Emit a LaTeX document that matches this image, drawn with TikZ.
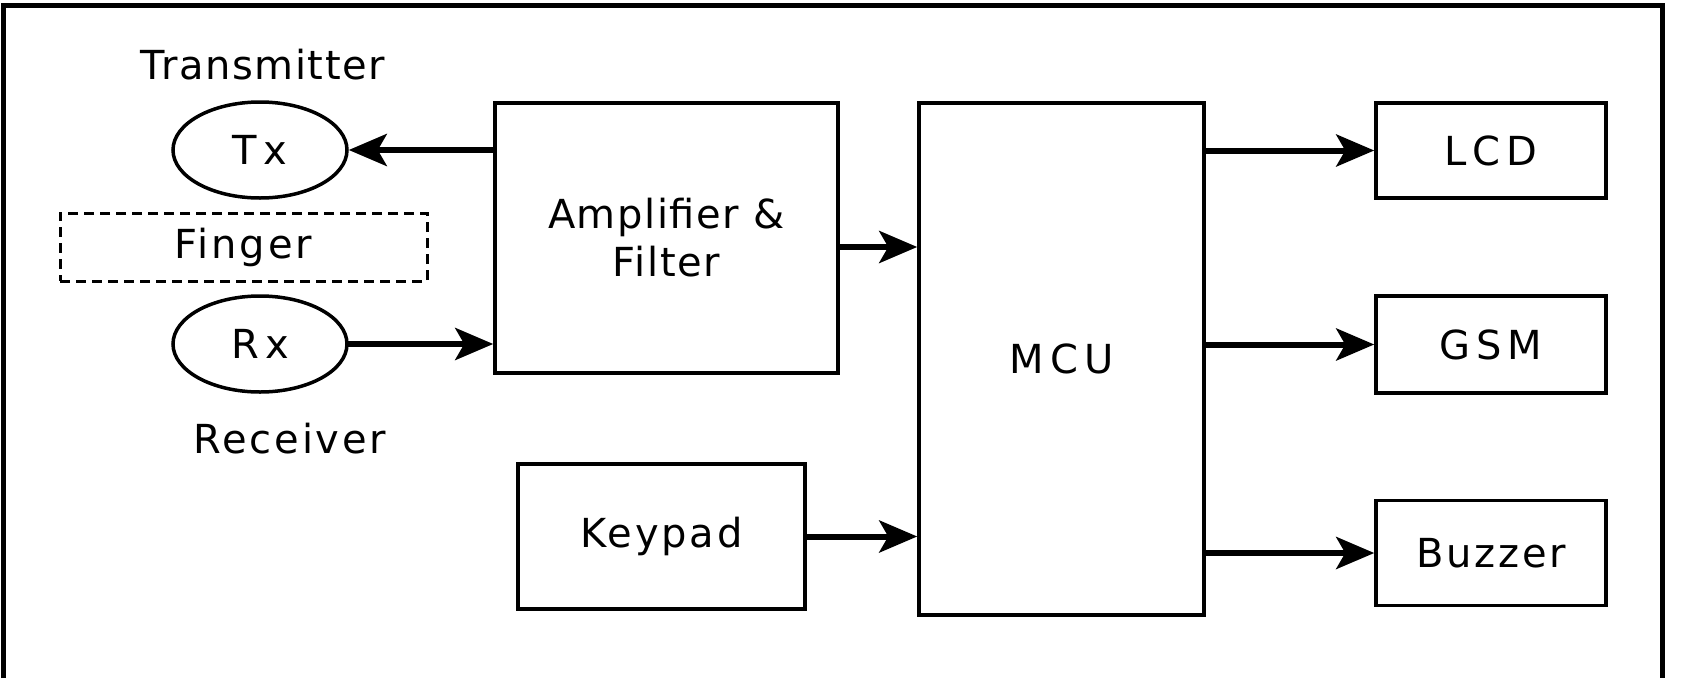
\documentclass[tikz,border=0pt]{standalone}
\usepackage{fontspec}
\setmainfont{DejaVu Sans}[LetterSpace=7]
\newfontfamily\narrowfont{DejaVu Sans}[LetterSpace=4]
\newfontfamily\widefont{DejaVu Sans}[LetterSpace=15]
\usetikzlibrary{arrows.meta,shapes.geometric}
\begin{document}
\begin{tikzpicture}[x=1pt,y=-1pt,
  txt/.style={font=\fontsize{40}{48}\selectfont, align=center, inner sep=0pt},
  box/.style={txt, draw, rectangle, line width=3.5pt},
  oval/.style={txt, draw, ellipse, line width=3.5pt, minimum width=174pt, minimum height=96pt},
  conn/.style={line width=6pt, line cap=round, -{Stealth[length=38pt,width=32pt,inset=9pt]}}]
\useasboundingbox (0,0) rectangle (1682,678);
\draw[line width=5pt] (3,678) -- (3,5) -- (1662,5) -- (1662,678);
% left side
\node[txt] (tlab) at (263,65) {\narrowfont Transmitter};
\node[oval] (tx) at (260,150) {\widefont Tx};
\node[box, dashed, dash pattern=on 10pt off 6pt, line width=3pt, minimum width=367pt, minimum height=68pt] (finger) at (243.5,247) {Finger};
\node[oval] (rx) at (260,344) {\widefont Rx};
\node[txt] (rlab) at (290,439) {Receiver};
% middle
\node[box, minimum width=343pt, minimum height=270pt] (amp) at (666.5,238) {\narrowfont Amplifier \&\\\narrowfont Filter};
\node[box, minimum width=287pt, minimum height=145pt] (kp) at (661.5,536.5) {Keypad};
\node[box, minimum width=285pt, minimum height=512pt] (mcu) at (1061.5,359) {\widefont MCU};
% right
\node[box, minimum width=230pt, minimum height=95pt] (lcd) at (1491,150.5) {\widefont LCD};
\node[box, minimum width=230pt, minimum height=97pt] (gsm) at (1491,344.5) {\widefont GSM};
\node[box, minimum width=230pt, minimum height=105pt] (bz) at (1491,553) {Buzzer};
% connectors
\draw[conn] (amp.west |- tx.east) -- (tx.east);
\draw[conn] (rx.east) -- (rx.east -| amp.west);
\draw[conn] ([yshift=-9pt]amp.east) -- ([yshift=-9pt]amp.east -| mcu.west);
\draw[conn] (kp.east) -- (kp.east -| mcu.west);
\draw[conn] (mcu.east |- lcd.west) -- (lcd.west);
\draw[conn] (mcu.east |- gsm.west) -- (gsm.west);
\draw[conn] (mcu.east |- bz.west) -- (bz.west);
\end{tikzpicture}
\end{document}
